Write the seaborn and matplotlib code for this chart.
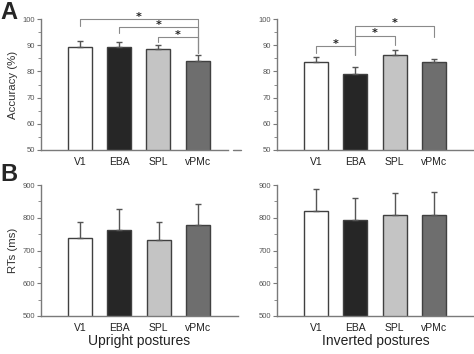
import numpy as np
import pandas as pd
import seaborn as sns
import matplotlib.pyplot as plt
from matplotlib.ticker import MultipleLocator

sns.set_style("ticks")
plt.rcParams['font.family'] = ['Liberation Sans', 'DejaVu Sans']

# regions and bar colours
regions = ['V1', 'EBA', 'SPL', 'vPMc']
bar_colors = ['#ffffff', '#262626', '#c4c4c4', '#6e6e6e']

# accuracy (%), mean and SEM
acc_upright = [89.2, 89.5, 88.5, 84.0]
acc_upright_err = [2.4, 1.9, 1.4, 2.1]
acc_inverted = [83.5, 78.9, 86.1, 83.5]
acc_inverted_err = [2.0, 2.6, 2.2, 1.4]

# reaction times (ms), mean and SEM
rt_upright = [737, 762, 733, 777]
rt_upright_err = [51, 64, 53, 65]
rt_inverted = [821, 794, 807, 807]
rt_inverted_err = [68, 66, 69, 72]

# significance brackets: (left bar, right bar, height, left leg end, right leg end)
sig_upright = [(0, 3, 100.0, 97.3, 87.0),
               (1, 3, 96.9, 94.6, 87.0),
               (2, 3, 93.1, 91.2, 87.0)]
sig_inverted = [(0, 1, 89.7, 87.0, 86.2),
                (1, 2, 93.6, 93.6, 89.9),
                (1, 3, 97.4, 86.2, 93.2)]

W, H = 474, 354
fig = plt.figure(figsize=(W / 100, H / 100), dpi=100)


def px_axes(x0, x1, ytop, ybot):
    return fig.add_axes([x0 / W, (H - ybot) / H, (x1 - x0) / W, (ybot - ytop) / H])


axA1 = px_axes(41, 228, 19, 150)
axA2 = px_axes(277, 474, 19, 150)
axB1 = px_axes(41, 238, 185, 316)
axB2 = px_axes(277, 474, 185, 316)

axis_grey = '#7a7a7a'
edge = '#404040'


def draw_panel(ax, vals, errs, ylim, major, minor, xlim, ylabel=None, xlabel=None):
    df = pd.DataFrame({'Region': regions, 'Value': vals})
    sns.barplot(data=df, x='Region', y='Value', hue='Region', palette=bar_colors,
                width=0.61, edgecolor=edge, linewidth=1.0, errorbar=None,
                legend=False, ax=ax)
    ax.errorbar(np.arange(len(regions)), vals, yerr=[np.zeros(len(errs)), errs],
                fmt='none', ecolor='#555555', elinewidth=1.0, capsize=2.5,
                capthick=1.0, zorder=1)
    ax.set_ylim(*ylim)
    ax.set_xlim(*xlim)
    ax.yaxis.set_major_locator(MultipleLocator(major))
    ax.yaxis.set_minor_locator(MultipleLocator(minor))
    sns.despine(ax=ax)
    for s in ['left', 'bottom']:
        ax.spines[s].set_color(axis_grey)
        ax.spines[s].set_linewidth(1.0)
    ax.tick_params(axis='y', which='major', length=3, width=0.8, color=axis_grey,
                   labelsize=5.5, labelcolor='#555555', pad=1.5)
    ax.tick_params(axis='y', which='minor', length=2, width=0.6, color=axis_grey)
    ax.tick_params(axis='x', length=0, labelsize=7.5, labelcolor='#222222', pad=5)
    ax.set_ylabel(ylabel if ylabel else '', fontsize=8.2, color='#333333', labelpad=3)
    ax.set_xlabel(xlabel if xlabel else '', fontsize=10, color='#222222', labelpad=1)


def draw_brackets(ax, brackets):
    for x1, x2, y, b1, b2 in brackets:
        ax.plot([x1, x1, x2, x2], [b1, y, y, b2], color='#8a8a8a', lw=0.8,
                clip_on=False, zorder=3)
        ax.text((x1 + x2) / 2, y - 0.2, '*', ha='center', va='baseline',
                fontsize=8, fontweight='bold', color='#222222',
                family='DejaVu Sans', clip_on=False)


draw_panel(axA1, acc_upright, acc_upright_err, (50, 100), 10, 5, (-0.99, 3.77),
           ylabel='Accuracy (%)')
draw_panel(axA2, acc_inverted, acc_inverted_err, (50, 100), 10, 5, (-0.99, 4.02))
draw_panel(axB1, rt_upright, rt_upright_err, (500, 900), 100, 50, (-0.99, 4.02),
           ylabel='RTs (ms)', xlabel='Upright postures')
draw_panel(axB2, rt_inverted, rt_inverted_err, (500, 900), 100, 50, (-0.99, 4.02),
           xlabel='Inverted postures')

draw_brackets(axA1, sig_upright)
draw_brackets(axA2, sig_inverted)

# little stray dash after the upper-left axis
axA1.plot([1.025, 1.07], [0, 0], transform=axA1.transAxes, color=axis_grey,
          lw=1.0, clip_on=False)

fig.text(0 / W, 1 - 1 / H, 'A', fontsize=17, fontweight='bold', ha='left', va='top')
fig.text(0 / W, 1 - 163 / H, 'B', fontsize=17, fontweight='bold', ha='left', va='top')

fig.savefig('out.png', dpi=100)
